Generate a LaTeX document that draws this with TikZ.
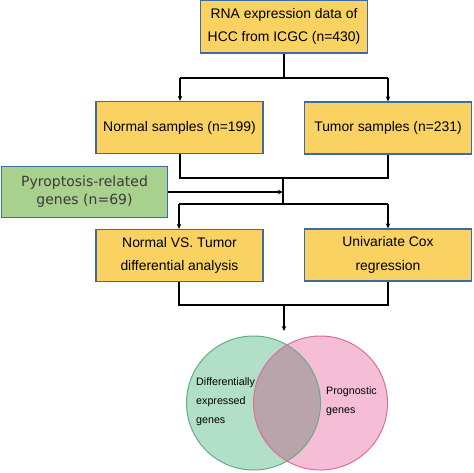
\documentclass[tikz,border=0pt]{standalone}
\usepackage{fontspec}
\setmainfont{Liberation Sans}
\newfontfamily\verdanafont{DejaVu Sans}
\usetikzlibrary{arrows.meta}
\definecolor{boxyellow}{HTML}{F9D262}
\definecolor{boxgreen}{HTML}{A9D18E}
\definecolor{boxborder}{HTML}{3E6BA8}
\definecolor{venngreen}{HTML}{B2DFC8}
\definecolor{venngreenline}{HTML}{62AE86}
\definecolor{vennpink}{HTML}{F5BED6}
\definecolor{vennpinkline}{HTML}{D9709A}
\definecolor{vennmix}{HTML}{B9A4AB}
\definecolor{graytext}{HTML}{3A3A3A}
\begin{document}
\begin{tikzpicture}[x=1pt,y=-1pt,
  ybox/.style={draw=boxborder,line width=1.3pt,fill=boxyellow,minimum width=167pt,minimum height=52pt,inner sep=0pt,align=center,font=\fontsize{13.9}{23.5}\selectfont},
  gbox/.style={draw=boxborder,line width=1.3pt,fill=boxgreen,minimum width=166pt,minimum height=51pt,inner sep=0pt,align=center,text=graytext,font=\verdanafont\fontsize{14}{18}\selectfont},
  conn/.style={line width=1.5pt,black},
  arr/.style={conn,-{Stealth[length=5pt,width=4.5pt]}},
  vtext/.style={inner sep=0pt,align=left,font=\fontsize{10.7}{19}\selectfont}
]
\useasboundingbox (0,0) rectangle (474,472);
\fill[white] (0,0) rectangle (474,472);

% boxes
\node[ybox,minimum height=53pt] (top) at (284,26.5) {RNA expression data of\\HCC from ICGC (n=430)};
\node[ybox] (normal) at (179.5,127.5) {Normal samples (n=199)};
\node[ybox] (tumor) at (388,128) {Tumor samples (n=231)};
\node[gbox] (pyro) at (84.5,192) {Pyroptosis-related\\genes (n=69)};
\node[ybox] (diff) at (179.5,255.5) {Normal VS. Tumor\\differential analysis};
\node[ybox] (cox) at (388,255) {Univariate Cox\\regression};

% connector coordinates
\coordinate (s1) at (284,78);
\coordinate (s1l) at (180,78);
\coordinate (s1r) at (388,78);
\coordinate (s2l) at (180,178);
\coordinate (s2r) at (388,178);
\coordinate (s2) at (283,178);
\coordinate (s3) at (283,204);
\coordinate (s3l) at (179,204);
\coordinate (s3r) at (388,204);
\coordinate (pj) at (283,192);
\coordinate (s4l) at (179,305);
\coordinate (s4r) at (388,305);
\coordinate (s4) at (284,305);
\coordinate (vtop) at (284,331);

\draw[conn] (top.south) -- (s1);
\draw[conn] (s1l) -- (s1r);
\draw[arr] (s1l) -- (normal.north -| s1l);
\draw[arr] (s1r) -- (tumor.north -| s1r);

\draw[conn] (normal.south -| s2l) -- (s2l) -- (s2r) -- (tumor.south -| s2r);
\draw[conn] (s2) -- (s3);
\draw[arr] (pyro.east |- pj) -- (pj);
\draw[conn] (s3l) -- (s3r);
\draw[arr] (s3l) -- (diff.north -| s3l);
\draw[arr] (s3r) -- (cox.north -| s3r);

\draw[conn] (diff.south -| s4l) -- (s4l) -- (s4r) -- (cox.south -| s4r);
\draw[arr] (s4) -- (vtop);

% venn
\node[circle,minimum size=134pt,inner sep=0pt,fill=venngreen] (cl) at (253.5,403) {};
\node[circle,minimum size=134pt,inner sep=0pt,fill=vennpink] (cr) at (320.5,403) {};
\begin{scope}
\clip (253.5,403) circle (67pt);
\fill[vennmix] (320.5,403) circle (67pt);
\end{scope}
\draw[venngreenline,line width=1pt] (253.5,403) circle (67pt);
\draw[vennpinkline,line width=1pt] (320.5,403) circle (67pt);

\node[vtext,anchor=west] (dtext) at (196,402) {Differentially\\expressed\\genes};
\node[vtext,anchor=west] (ptext) at (326,401.5) {Prognostic\\genes};
\end{tikzpicture}
\end{document}
